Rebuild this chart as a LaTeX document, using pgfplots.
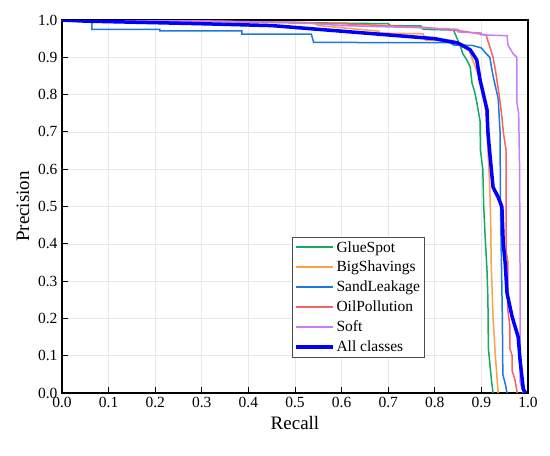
\documentclass[border=0pt]{standalone}
\usepackage{fontspec}
\setmainfont{Liberation Serif}
\usepackage{pgfplots}
\pgfplotsset{compat=1.18}
\definecolor{cGlue}{RGB}{20,170,100}
\definecolor{cBig}{RGB}{255,160,70}
\definecolor{cSand}{RGB}{30,120,225}
\definecolor{cOil}{RGB}{245,100,95}
\definecolor{cSoft}{RGB}{200,125,245}
\definecolor{cAll}{RGB}{0,0,255}
\definecolor{gridc}{RGB}{232,232,242}
\begin{document}
\begin{tikzpicture}
\begin{axis}[
  width=466pt, height=373pt, scale only axis,
  xmin=0, xmax=1, ymin=0, ymax=1,
  xtick={0,0.1,0.2,0.3,0.4,0.5,0.6,0.7,0.8,0.9,1},
  ytick={0,0.1,0.2,0.3,0.4,0.5,0.6,0.7,0.8,0.9,1},
  xticklabels={0.0,0.1,0.2,0.3,0.4,0.5,0.6,0.7,0.8,0.9,1.0},
  yticklabels={0.0,0.1,0.2,0.3,0.4,0.5,0.6,0.7,0.8,0.9,1.0},
  tick pos=left, tick align=inside, major tick length=6pt,
  tick style={black, line width=0.9pt},
  axis line style={black, line width=1.3pt},
  grid=major, major grid style={gridc, line width=0.6pt},
  ticklabel style={font=\fontsize{15.5}{17}\selectfont},
  xticklabel style={yshift=-1pt},
  yticklabel style={xshift=-1pt},
  xlabel={Recall}, ylabel={Precision},
  label style={font=\fontsize{19}{21}\selectfont},
  xlabel style={yshift=-1pt},
  ylabel style={yshift=2pt},
  legend cell align=left,
  legend style={at={(0.4936,0.0965)}, anchor=south west, draw=black!70,
    font=\fontsize{15.5}{17}\selectfont, row sep=3.6pt, inner sep=1.8pt},
  legend image code/.code={\draw[#1] (0pt,0pt) -- (37pt,0pt);},
  legend image post style={line width=1.9pt},
  every axis plot/.append style={line width=1.5pt},
]
\addplot[cGlue] coordinates {(0,1) (0.3,0.997) (0.5,0.993) (0.7,0.99) (0.705,0.985) (0.77,0.984) (0.775,0.975) (0.84,0.973) (0.848,0.95) (0.855,0.93) (0.86,0.91) (0.87,0.89) (0.876,0.874) (0.88,0.83) (0.885,0.81) (0.89,0.78) (0.897,0.73) (0.898,0.65) (0.903,0.6) (0.905,0.5) (0.908,0.42) (0.912,0.33) (0.914,0.25) (0.915,0.12) (0.918,0.08) (0.922,0.03) (0.925,0)};
\addlegendentry{GlueSpot}
\addplot[cBig] coordinates {(0,1) (0.3,0.997) (0.54,0.993) (0.55,0.985) (0.68,0.97) (0.68,0.965) (0.775,0.963) (0.78,0.946) (0.84,0.945) (0.87,0.93) (0.885,0.88) (0.9,0.83) (0.91,0.75) (0.914,0.65) (0.918,0.55) (0.92,0.45) (0.921,0.35) (0.925,0.2) (0.93,0.1) (0.936,0)};
\addlegendentry{BigShavings}
\addplot[cSand] coordinates {(0,1) (0.064,0.998) (0.064,0.975) (0.21,0.975) (0.21,0.971) (0.386,0.971) (0.386,0.962) (0.535,0.962) (0.54,0.94) (0.833,0.939) (0.84,0.933) (0.88,0.932) (0.9,0.925) (0.91,0.91) (0.918,0.9) (0.925,0.85) (0.936,0.79) (0.94,0.7) (0.941,0.5) (0.943,0.35) (0.945,0.2) (0.946,0.05) (0.952,0.02) (0.955,0)};
\addlegendentry{SandLeakage}
\addplot[cOil] coordinates {(0,1) (0.3,0.997) (0.6,0.99) (0.78,0.98) (0.86,0.97) (0.91,0.96) (0.915,0.94) (0.925,0.9) (0.93,0.866) (0.938,0.8) (0.944,0.74) (0.947,0.70) (0.953,0.65) (0.953,0.38) (0.957,0.35) (0.957,0.22) (0.961,0.18) (0.961,0.12) (0.966,0.1) (0.966,0.06) (0.972,0.035) (0.977,0)};
\addlegendentry{OilPollution}
\addplot[cSoft] coordinates {(0,1) (0.3,0.997) (0.5,0.994) (0.6,0.985) (0.75,0.98) (0.85,0.975) (0.85,0.968) (0.9,0.965) (0.9,0.96) (0.955,0.958) (0.957,0.933) (0.968,0.91) (0.976,0.9) (0.976,0.78) (0.98,0.75) (0.982,0.6) (0.983,0.3) (0.983,0.03) (0.99,0)};
\addlegendentry{Soft}
\addplot[cAll, line width=3.5pt, legend image post style={line width=3.5pt}] coordinates {(0,1) (0.05,0.997) (0.3,0.99) (0.45,0.985) (0.55,0.975) (0.65,0.965) (0.75,0.955) (0.8,0.95) (0.85,0.938) (0.876,0.92) (0.89,0.893) (0.897,0.84) (0.912,0.76) (0.914,0.70) (0.918,0.643) (0.925,0.552) (0.936,0.525) (0.944,0.499) (0.947,0.4) (0.951,0.349) (0.955,0.268) (0.966,0.204) (0.979,0.15) (0.983,0.088) (0.99,0.01) (0.995,0)};
\addlegendentry{All classes}
\end{axis}
\path (-62pt,-63pt) rectangle (488pt,393pt);
\end{tikzpicture}
\end{document}
